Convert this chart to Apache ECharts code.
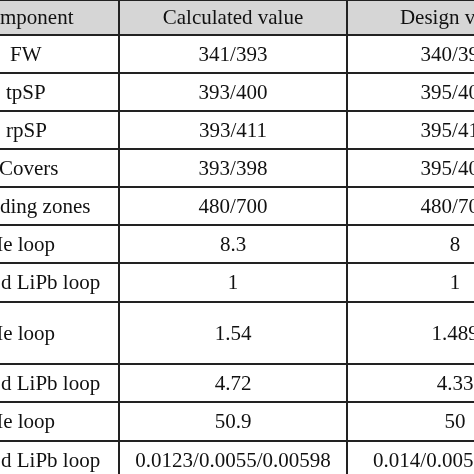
<!DOCTYPE html><html><head><meta charset="utf-8">
<script src="https://cdn.jsdelivr.net/npm/echarts@6/dist/echarts.min.js"></script>
<style>html,body{margin:0;padding:0;background:#fff}#c{width:474px;height:474px}</style></head><body><div id="c"></div>
<script>
const headers = ['mponent', 'Calculated value', 'Design value'];
const components = ['FW', 'tpSP', 'rpSP', 'Covers', 'ding zones', 'He loop', 'd LiPb loop', 'He loop', 'd LiPb loop', 'He loop', 'd LiPb loop'];
const calculated = ['341/393', '393/400', '393/411', '393/398', '480/700', '8.3', '1', '1.54', '4.72', '50.9', '0.0123/0.0055/0.00598'];
const design = ['340/395', '395/400', '395/410', '395/400', '480/700', '8', '1', '1.489', '4.33', '50', '0.014/0.0055/0.006'];

const rowEdges = [0, 35, 73, 111, 149, 187, 225, 263, 302, 364, 402, 441, 480];
const colEdges = [119, 347];
const leftX = [0, 10, 6, 6, -1, 0, -12, 1, -12, 1, -12, 1];
const centers = [233, 455];
const font = '21px "Liberation Serif", "DejaVu Serif", serif';
const g = [];
g.push({type:'rect', shape:{x:0,y:0,width:474,height:35}, style:{fill:'#d6d6d6'}});
rowEdges.forEach(y => g.push({type:'line', shape:{x1:0,y1:y,x2:474,y2:y}, style:{stroke:'#222',lineWidth:2}}));
colEdges.forEach(x => g.push({type:'line', shape:{x1:x,y1:0,x2:x,y2:480}, style:{stroke:'#222',lineWidth:2}}));
const rows = [[headers[0], headers[1], headers[2]]];
components.forEach((c,i) => rows.push([c, calculated[i], design[i]]));
rows.forEach((r,i) => {
  const yc = (rowEdges[i] + rowEdges[i+1]) / 2 + 1;
  g.push({type:'text', x:leftX[i], y:yc, style:{text:r[0], font:font, fill:'#111', textAlign:'left', textVerticalAlign:'middle'}});
  g.push({type:'text', x:centers[0], y:yc, style:{text:r[1], font:font, fill:'#111', textAlign:'center', textVerticalAlign:'middle'}});
  g.push({type:'text', x:centers[1], y:yc, style:{text:r[2], font:font, fill:'#111', textAlign:'center', textVerticalAlign:'middle'}});
});
const chart = echarts.init(document.getElementById('c'));
chart.setOption({animation:false, graphic:{elements:g}});
</script></body></html>
